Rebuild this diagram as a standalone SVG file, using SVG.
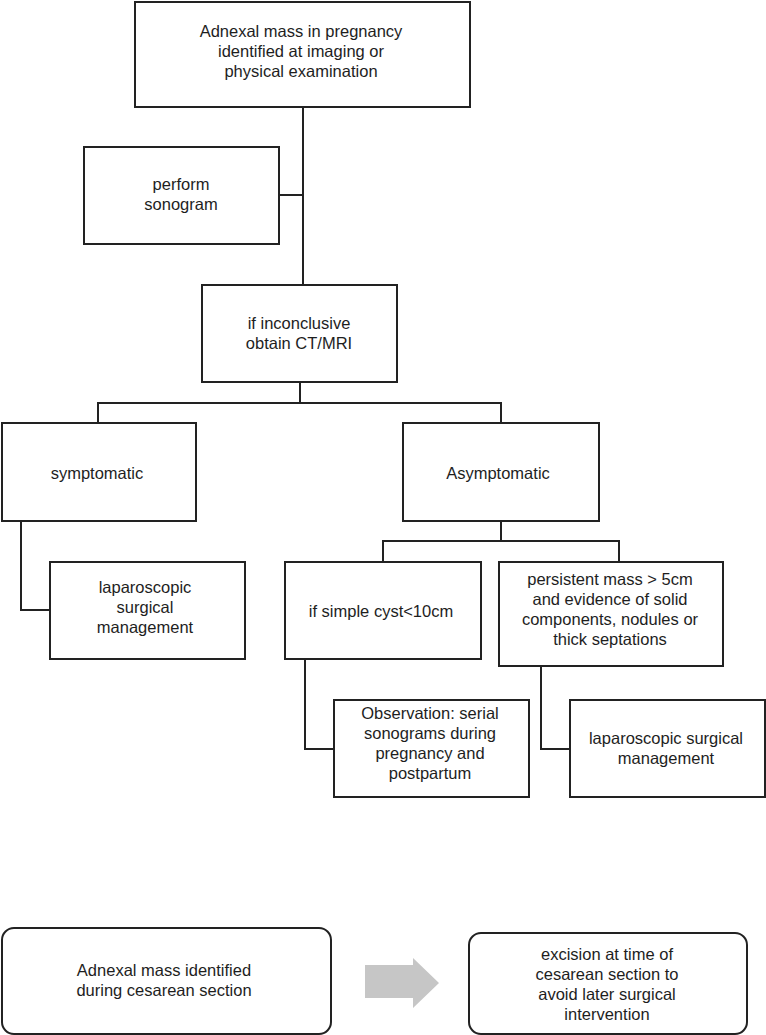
<svg xmlns="http://www.w3.org/2000/svg" width="766" height="1035" viewBox="0 0 766 1035">
<style>
.box{fill:#fff;stroke:#222;stroke-width:2}
.con{fill:none;stroke:#222;stroke-width:2}
text{font-family:"Liberation Sans",Arial,Helvetica,sans-serif;font-size:16.5px;fill:#1e1e1e;text-anchor:middle}
</style>
<rect width="766" height="1035" fill="#fff"/>
<g id="connectors">
<polyline class="con" points="303,107 303,285"/>
<polyline class="con" points="279,195 303,195"/>
<polyline class="con" points="300,382 300,403"/>
<polyline class="con" points="98,423 98,403 501,403 501,423"/>
<polyline class="con" points="501,521 501,541"/>
<polyline class="con" points="383,562 383,541 619,541 619,562"/>
<polyline class="con" points="21,521 21,610 50,610"/>
<polyline class="con" points="305,659 305,749 334,749"/>
<polyline class="con" points="541,666 541,749 570,749"/>
<polygon points="365,965 413,965 413,958 439,983 413,1008 413,998 365,998" fill="#c6c6c6"/>
</g>
<g id="n-start">
<rect class="box" x="135" y="2" width="335" height="105"/>
<text x="301" y="37">Adnexal mass in pregnancy</text>
<text x="301" y="57">identified at imaging or</text>
<text x="301" y="77">physical examination</text>
</g>
<g id="n-sonogram">
<rect class="box" x="84" y="147" width="195" height="97"/>
<text x="181" y="190">perform</text>
<text x="181" y="210">sonogram</text>
</g>
<g id="n-ctmri">
<rect class="box" x="202" y="285" width="195" height="97"/>
<text x="299" y="329">if inconclusive</text>
<text x="299" y="349">obtain CT/MRI</text>
</g>
<g id="n-symptomatic">
<rect class="box" x="2" y="423" width="194" height="98"/>
<text x="97" y="479">symptomatic</text>
</g>
<g id="n-asymptomatic">
<rect class="box" x="403" y="423" width="196" height="98"/>
<text x="498" y="479">Asymptomatic</text>
</g>
<g id="n-lap-left">
<rect class="box" x="50" y="562" width="195" height="97"/>
<text x="145" y="593">laparoscopic</text>
<text x="145" y="613">surgical</text>
<text x="145" y="633">management</text>
</g>
<g id="n-simple-cyst">
<rect class="box" x="285" y="562" width="196" height="97"/>
<text x="381" y="617">if simple cyst&lt;10cm</text>
</g>
<g id="n-persistent">
<rect class="box" x="499" y="562" width="224" height="104"/>
<text x="610" y="585">persistent mass &gt; 5cm</text>
<text x="610" y="605">and evidence of solid</text>
<text x="610" y="625">components, nodules or</text>
<text x="610" y="645">thick septations</text>
</g>
<g id="n-observation">
<rect class="box" x="334" y="700" width="195" height="97"/>
<text x="430" y="719">Observation: serial</text>
<text x="430" y="739">sonograms during</text>
<text x="430" y="759">pregnancy and</text>
<text x="430" y="779">postpartum</text>
</g>
<g id="n-lap-right">
<rect class="box" x="570" y="700" width="195" height="97"/>
<text x="666" y="744">laparoscopic surgical</text>
<text x="666" y="764">management</text>
</g>
<g id="n-cesarean">
<rect class="box" x="2" y="928" width="329" height="106" rx="12" ry="12"/>
<text x="164" y="976">Adnexal mass identified</text>
<text x="164" y="996">during cesarean section</text>
</g>
<g id="n-excision">
<rect class="box" x="469" y="933" width="278" height="101" rx="12" ry="12"/>
<text x="607" y="960">excision at time of</text>
<text x="607" y="980">cesarean section to</text>
<text x="607" y="1000">avoid later surgical</text>
<text x="607" y="1020">intervention</text>
</g>
</svg>
